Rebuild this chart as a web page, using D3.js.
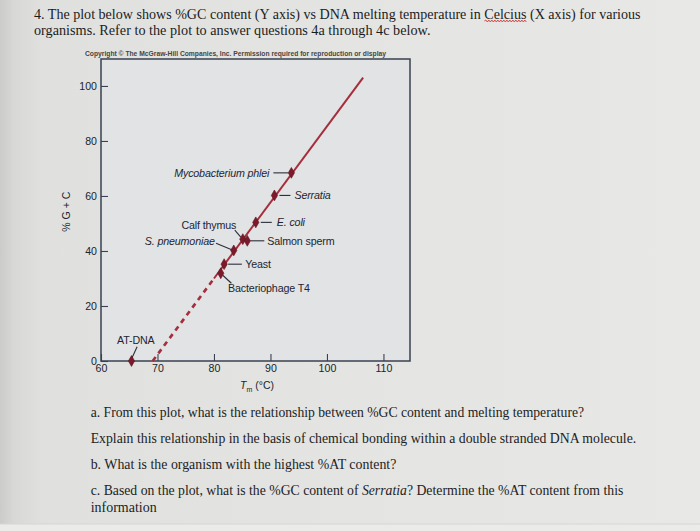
<!DOCTYPE html>
<html>
<head>
<meta charset="utf-8">
<script src="https://cdn.jsdelivr.net/npm/d3@7/dist/d3.min.js"></script>
<style>
  html, body { margin: 0; padding: 0; background: #e4e5e3; }
  svg { display: block; }
</style>
</head>
<body>
<svg id="chart" width="700" height="531"></svg>
<script>
// ---------------- DATA ----------------
const organisms = ["Mycobacterium phlei", "Serratia", "E. coli", "Calf thymus", "Salmon sperm",
                   "S. pneumoniae", "Yeast", "Bacteriophage T4", "AT-DNA"];
const meltTemp  = [93.7, 90.7, 87.4, 85.1, 85.9, 83.5, 81.8, 81.2, 65.4];   // Tm (°C)
const gcContent = [68.4, 60.2, 50.4, 44.3, 43.7, 40.2, 35.2, 31.9, 0];     // % G + C
const italicName = [true, true, true, false, false, true, false, false, false];

// fitted trend line (dashed below the measured range, solid above)
const fitTm = [69.15, 80.0, 106.4];
const fitGC = [0, 30, 103];

const xTicks = [60, 70, 80, 90, 100, 110];
const yTicks = [0, 20, 40, 60, 80, 100];

const titleLines = [
  "4. The plot below shows %GC content (Y axis) vs DNA melting temperature in Celcius (X axis) for various",
  "organisms. Refer to the plot to answer questions 4a through 4c below."
];
const questionLines = [
  "a. From this plot, what is the relationship between %GC content and melting temperature?",
  "Explain this relationship in the basis of chemical bonding within a double stranded DNA molecule.",
  "b. What is the organism with the highest %AT content?",
  "c. Based on the plot, what is the %GC content of |Serratia|? Determine the %AT content from this",
  "information"
];
const copyrightText = "Copyright \u00A9 The McGraw-Hill Companies, Inc. Permission required for reproduction or display";

// ---------------- LAYOUT (pixels, not data) ----------------
const labelLayout = [
  {l: [-18, 0, -3, 0],    t: [-22, 3.7],  anchor: "end"},
  {l: [5, 0, 16, 0],      t: [20, 3.7],   anchor: "start"},
  {l: [5, 0, 16, 0],      t: [21, 3.7],   anchor: "start"},
  {l: [-8, -9, -2, -2],   t: [-6.5, -10.6], anchor: "end"},
  {l: [3, 0, 17, 0],      t: [20, 3.9],   anchor: "start"},
  {l: [-17.7, -7.2, -2, -0.7], t: [-19, -5.3], anchor: "end"},
  {l: [4, 0, 17.7, 0],    t: [21, 4.2],   anchor: "start"},
  {l: [2, 2, 10.6, 10],   t: [7.3, 18.7], anchor: "start"},
  {l: [0, -2, 5.6, -14.3], t: [4.3, -16.8], anchor: "middle"}
];

const svg = d3.select("#chart");
const W = 700, H = 531;

// fit a text element to a target width by scaling its font size
function fitWidth(sel, target, base) {
  const n = sel.node();
  const w = n.getComputedTextLength();
  if (w > 0) sel.attr("font-size", base * target / w);
}

// background (photo of a screen)
const defs = svg.append("defs");
const bg = defs.append("linearGradient").attr("id", "bg").attr("x1", 0).attr("x2", 1).attr("y1", 0).attr("y2", 0);
[[0, "#cbccca"], [0.02, "#d8d9d7"], [0.06, "#e0e1df"], [0.5, "#e4e5e3"], [0.8, "#e6e7e5"], [1, "#e8e8e6"]]
  .forEach(s => bg.append("stop").attr("offset", s[0]).attr("stop-color", s[1]));
svg.append("rect").attr("width", W).attr("height", H).attr("fill", "url(#bg)");
svg.append("rect").attr("x", 0).attr("y", 524).attr("width", W).attr("height", 7).attr("fill", "#ebebe9");
svg.append("line").attr("x1", 0).attr("x2", W).attr("y1", 524).attr("y2", 524).attr("stroke", "#d6d6d4").attr("stroke-width", 1);

// ---------------- TITLE ----------------
const titleFont = "'Liberation Serif', 'Times New Roman', serif";
const titleWidths = [607, 397];
const titleBase = [18.5, 34.5];
const tNodes = [];
titleLines.forEach((s, i) => {
  const t = svg.append("text")
    .attr("x", 34).attr("y", titleBase[i])
    .attr("font-family", titleFont).attr("font-size", 15)
    .attr("fill", "#1c1c1c")
    .text(s);
  fitWidth(t, titleWidths[i], 15);
  tNodes.push(t.node());
});

// spell-check squiggle under "Celcius"
(function () {
  const node = tNodes[0];
  const s = titleLines[0];
  const idx = s.indexOf("Celcius");
  try {
    const a = node.getExtentOfChar(idx);
    const b = node.getExtentOfChar(idx + 6);
    const x0 = a.x, x1 = b.x + b.width, y0 = titleBase[0] + 2.5;
    let p = "M" + x0 + "," + y0;
    let up = true;
    for (let xx = x0 + 1.5; xx <= x1; xx += 1.5) { p += "L" + xx + "," + (y0 + (up ? -1 : 1)); up = !up; }
    svg.append("path").attr("d", p).attr("fill", "none").attr("stroke", "#d23a3a").attr("stroke-width", 0.9);
  } catch (e) {}
})();

// copyright
svg.append("text")
  .attr("x", 85).attr("y", 55.5)
  .attr("font-family", "'Liberation Sans', Arial, sans-serif").attr("font-size", 7).attr("font-weight", "bold")
  .attr("fill", "#444")
  .attr("textLength", 301).attr("lengthAdjust", "spacingAndGlyphs")
  .text(copyrightText);

// ---------------- CHART ----------------
const x = d3.scaleLinear().domain([60, 114.7]).range([101, 410]);
const y = d3.scaleLinear().domain([0, 109.8]).range([361, 59]);
const sans = "'Liberation Sans', Arial, Helvetica, sans-serif";

svg.append("rect")
  .attr("x", x(60)).attr("y", y(109.8))
  .attr("width", x(114.7) - x(60)).attr("height", y(0) - y(109.8))
  .attr("fill", "#e1e3e4");

const xAxis = svg.append("g").attr("transform", `translate(0,${y(0)})`)
  .call(d3.axisBottom(x).tickValues(xTicks).tickSize(-7).tickPadding(3.5).tickFormat(d3.format("d")));
const yAxis = svg.append("g").attr("transform", `translate(${x(60)},0)`)
  .call(d3.axisLeft(y).tickValues(yTicks).tickSize(-7).tickPadding(4).tickFormat(d3.format("d")));
[xAxis, yAxis].forEach(g => {
  g.select(".domain").remove();
  g.selectAll(".tick line").attr("stroke", "#3b4150").attr("stroke-width", 1.1);
  g.selectAll(".tick text").attr("font-family", sans).attr("font-size", 10.6).attr("fill", "#20242c");
});

// frame
svg.append("rect")
  .attr("x", x(60)).attr("y", y(109.8))
  .attr("width", x(114.7) - x(60)).attr("height", y(0) - y(109.8))
  .attr("fill", "none").attr("stroke", "#394150").attr("stroke-width", 1.5);

// axis labels
const tmLabel = svg.append("text").attr("x", 257).attr("y", 389)
  .attr("text-anchor", "middle").attr("font-family", sans).attr("font-size", 10.5).attr("fill", "#20242c");
tmLabel.append("tspan").attr("font-style", "italic").text("T");
tmLabel.append("tspan").attr("font-size", 7).attr("dy", 2.5).text("m");
tmLabel.append("tspan").attr("dy", -2.5).text(" (\u00B0C)");

svg.append("text")
  .attr("transform", "translate(69.5,211.7) rotate(-90)")
  .attr("text-anchor", "middle")
  .attr("font-family", sans).attr("font-size", 10.5).attr("fill", "#20242c")
  .text("% G + C");

// trend line
const fitPts = fitTm.map((t, i) => [t, fitGC[i]]);
const line = d3.line().x(d => x(d[0])).y(d => y(d[1]));
svg.append("path").datum(fitPts.slice(0, 2)).attr("d", line)
  .attr("fill", "none").attr("stroke", "#a52d3c").attr("stroke-width", 2.6)
  .attr("stroke-dasharray", "5,4.5");
svg.append("path").datum(fitPts.slice(1)).attr("d", line)
  .attr("fill", "none").attr("stroke", "#a52d3c").attr("stroke-width", 2);

// leaders + labels
const pts = organisms.map((n, i) => ({name: n, tm: meltTemp[i], gc: gcContent[i], it: italicName[i], lay: labelLayout[i]}));

svg.selectAll("line.leader").data(pts).join("line")
  .attr("class", "leader")
  .attr("x1", d => x(d.tm) + d.lay.l[0]).attr("y1", d => y(d.gc) + d.lay.l[1])
  .attr("x2", d => x(d.tm) + d.lay.l[2]).attr("y2", d => y(d.gc) + d.lay.l[3])
  .attr("stroke", "#2b2f3a").attr("stroke-width", 1.1);

svg.selectAll("path.pt").data(pts).join("path")
  .attr("class", "pt")
  .attr("transform", d => `translate(${x(d.tm)},${y(d.gc)})`)
  .attr("d", d3.symbol().type(d3.symbolDiamond).size(34))
  .attr("fill", "#7c1a2b").attr("stroke", "#5e1420").attr("stroke-width", 0.6);

svg.selectAll("text.lab").data(pts).join("text")
  .attr("class", "lab")
  .attr("x", d => x(d.tm) + d.lay.t[0]).attr("y", d => y(d.gc) + d.lay.t[1])
  .attr("text-anchor", d => d.lay.anchor)
  .attr("font-family", sans).attr("font-size", 10.7)
  .attr("font-style", d => d.it ? "italic" : "normal")
  .attr("fill", "#1e2533")
  .attr("letter-spacing", -0.15)
  .text(d => d.name);

// ---------------- QUESTIONS ----------------
const qBase = [416.5, 443, 469, 495, 512];
const qWidths = [494, 546, 306, 533, 66];
questionLines.forEach((q, i) => {
  const t = svg.append("text")
    .attr("x", 90.7).attr("y", qBase[i])
    .attr("font-family", titleFont).attr("font-size", 14).attr("fill", "#222");
  q.split("|").forEach((part, k) => {
    t.append("tspan").attr("font-style", k % 2 === 1 ? "italic" : "normal").text(part);
  });
  fitWidth(t, qWidths[i], 14);
});
</script>
</body>
</html>
